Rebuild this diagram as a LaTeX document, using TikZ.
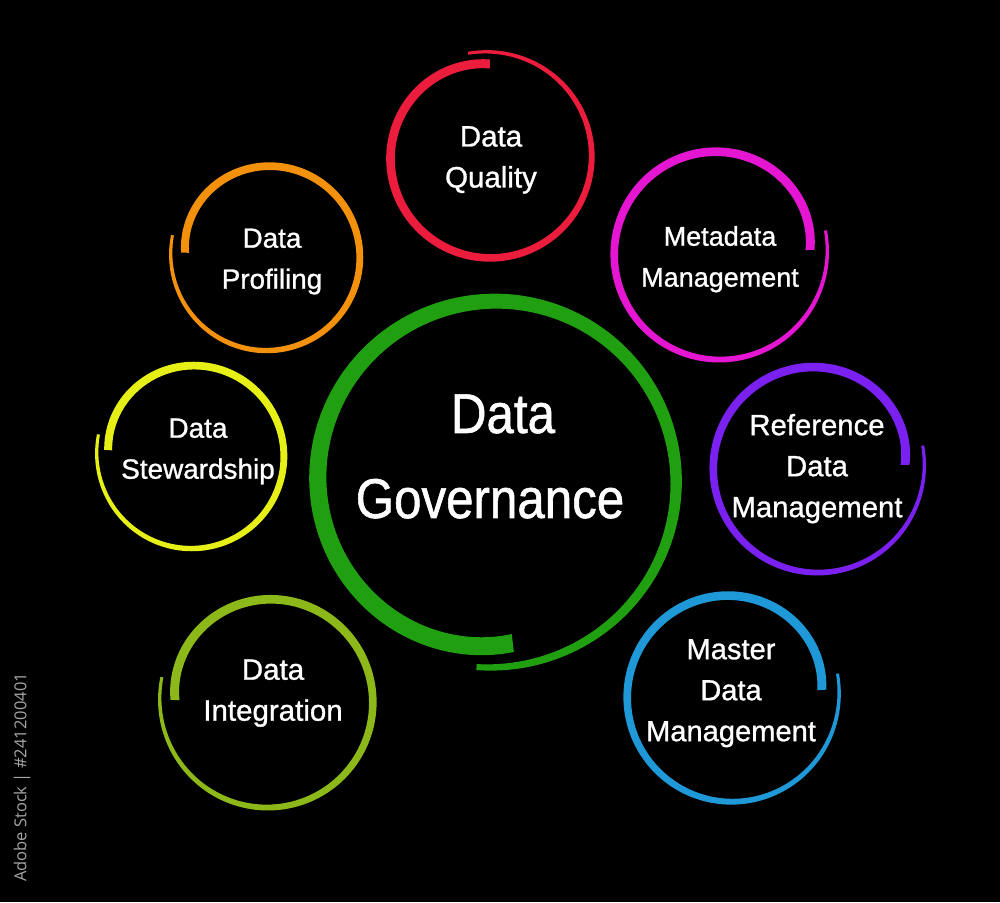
\documentclass[tikz,border=0pt]{standalone}
\usepackage{fontspec}
\setmainfont{Liberation Sans}[FakeBold=1]
\newfontfamily\lblfont{Liberation Sans}[FakeBold=1]
\newfontfamily\govfont{Liberation Sans}[FakeStretch=0.88,FakeBold=1]
\newfontfamily\wmfont{Open Sans}
\definecolor{cRed}{RGB}{236,28,60}
\definecolor{cMagenta}{RGB}{228,22,210}
\definecolor{cPurple}{RGB}{122,32,240}
\definecolor{cBlue}{RGB}{30,152,214}
\definecolor{cLime}{RGB}{140,184,25}
\definecolor{cYellow}{RGB}{230,240,22}
\definecolor{cOrange}{RGB}{243,145,12}
\definecolor{cGreen}{RGB}{32,160,16}
\definecolor{cWm}{RGB}{165,165,165}
% #1 cx, #2 cy (pixels, y down), #3 mean radius, #4 inward offset at start,
% #5 outward offset at end, #6 start angle, #7 sweep, #8 start width, #9 end width
\newcommand\brushring[9]{%
  \begin{scope}[declare function={
      brpsix(\x)=\x*\x*\x*\x*\x*\x;
      brrad(\x)=#3-#4*brpsix(1-\x)+#5*brpsix(\x);
      brwid(\x)=#8-(#8-#9)*\x*\x;
      brang(\x)=#6+#7*\x;}]
    \fill plot[domain=0:1,samples=260,variable=\x]
      ({#1+(brrad(\x)+brwid(\x)/2)*cos(brang(\x))},{902-#2+(brrad(\x)+brwid(\x)/2)*sin(brang(\x))})
      -- plot[domain=1:0,samples=260,variable=\x]
      ({#1+(brrad(\x)-brwid(\x)/2)*cos(brang(\x))},{902-#2+(brrad(\x)-brwid(\x)/2)*sin(brang(\x))})
      -- cycle;
  \end{scope}}
\tikzset{
  lbl/.style={text=white, align=center, inner sep=0pt, font=\lblfont\fontsize{#1}{41}\selectfont},
  lbl/.default=29,
  govlbl/.style={text=white, align=center, inner sep=0pt, font=\govfont\fontsize{56}{85}\selectfont},
  wm/.style={text=cWm, inner sep=0pt, font=\wmfont\fontsize{16.5}{18}\selectfont}
}
\begin{document}
\begin{tikzpicture}[x=1pt,y=1pt]
\fill[black] (0,0) rectangle (1000,902);
\useasboundingbox (0,0) rectangle (1000,902);

% rings
\begin{scope}[color=cRed]\brushring{490}{157}{101}{8}{5}{90}{372}{9}{3}\end{scope}
\begin{scope}[color=cMagenta]\brushring{719}{254}{105}{14}{4}{2.5}{370}{9}{3}\end{scope}
\begin{scope}[color=cPurple]\brushring{817}{468}{104}{16}{4}{2}{370}{9}{3}\end{scope}
\begin{scope}[color=cBlue]\brushring{731}{697}{104}{13}{5}{4.4}{368}{9}{3}\end{scope}
\begin{scope}[color=cLime]\brushring{268}{702}{105}{12}{4}{178.8}{-372}{9}{3}\end{scope}
\begin{scope}[color=cYellow]\brushring{192}{456}{92}{8}{4}{176}{-369}{8}{3}\end{scope}
\begin{scope}[color=cOrange]\brushring{267}{257}{93}{11}{4}{177}{-370}{8}{3}\end{scope}
\begin{scope}[color=cGreen]\brushring{495}{481}{180}{17}{7}{276.3}{-372}{18}{6}\end{scope}

% labels
\node[lbl=29.5] (quality)     at (491,743.2) {\strut Data\\\strut Quality};
\node[lbl=27]   (metadata)    at (720,644)   {\strut Metadata\\\strut Management};
\node[lbl=29.3] (reference)   at (817,434)   {\strut Reference\\\strut Data\\\strut Management};
\node[lbl=29.1] (master)      at (731,210)   {\strut Master\\\strut Data\\\strut Management};
\node[lbl=29.5] (integration) at (273,210)   {\strut Data\\\strut Integration};
\node[lbl=27.9] (stewardship) at (198,452)   {\strut Data\\\strut Stewardship};
\node[lbl=27.8] (profiling)   at (272,642)   {\strut Data\\\strut Profiling};
\node[govlbl]   (governance)  at (490,443.5) {\strut\hspace*{26pt}Data\\\strut Governance};

\node[wm, rotate=90] (stockid) at (22,124.5) {Adobe Stock | \#241200401};
\end{tikzpicture}
\end{document}
